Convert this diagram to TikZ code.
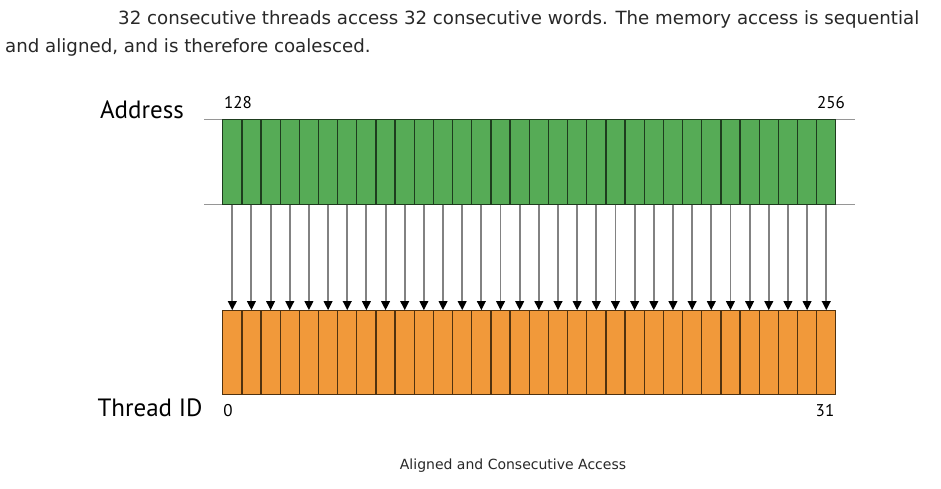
\documentclass[tikz,border=0pt]{standalone}
\usepackage{fontspec}
\setmainfont{DejaVu Sans}
\newfontfamily\labfont{PT Sans}
\usetikzlibrary{arrows.meta}
\definecolor{cellgreen}{RGB}{86,171,86}
\definecolor{cellorange}{RGB}{241,153,58}
\definecolor{greenline}{RGB}{30,60,30}
\definecolor{orangeline}{RGB}{80,50,15}
\definecolor{guide}{RGB}{150,150,150}
\definecolor{arrowgray}{RGB}{130,130,130}
\definecolor{txt}{RGB}{40,40,40}
\tikzset{
  gcell/.style={draw=greenline, fill=cellgreen, line width=1.3pt, minimum width=19.16pt, minimum height=85pt, inner sep=0pt, outer sep=0pt},
  ocell/.style={draw=orangeline, fill=cellorange, line width=1.3pt, minimum width=19.16pt, minimum height=84pt, inner sep=0pt, outer sep=0pt},
  guideline/.style={draw=guide, line width=1.8pt},
  link/.style={draw=arrowgray, line width=1.9pt, -{Triangle[width=8.5pt,length=9pt,fill=black,color=black]}},
  biglab/.style={font=\labfont\fontsize{25}{28}\selectfont, text=black, inner sep=0pt},
  numlab/.style={font=\labfont\fontsize{17}{20}\selectfont, text=black, inner sep=0pt},
  bodytext/.style={font=\fontsize{18.2}{21}\selectfont, text=txt, inner sep=0pt, anchor=base west},
  caption/.style={font=\fontsize{14}{16}\selectfont, text=txt, inner sep=0pt}
}
\begin{document}
\begin{tikzpicture}[x=1pt,y=-1pt]
\useasboundingbox[fill=white] (0,0) rectangle (941,489);
% body text
\node[bodytext] (line1) at (118,25) {32 consecutive threads access 32 consecutive words. The memory access is sequential};
\node[bodytext] (line2) at (5,53) {and aligned, and is therefore coalesced.};
% guide lines
\coordinate (gtl) at (204,119.5);
\coordinate (gtr) at (855,119.5);
\coordinate (gbl) at (204,204.5);
\coordinate (gbr) at (855,204.5);
\draw[guideline] (gtl) -- (gtr);
\draw[guideline] (gbl) -- (gbr);
% cells
\foreach \i in {1,...,32} {
  \node[gcell] (g\i) at ({222.7+19.16*(\i-0.5)},162) {};
  \node[ocell] (o\i) at ({222.7+19.16*(\i-0.5)},352.2) {};
}
\foreach \i in {1,...,32} {
  \draw[link] (g\i.south) -- (o\i.north);
}
% labels
\node[biglab] (addr) at (142,110) {Address};
\node[biglab] (tid) at (150,408) {Thread ID};
\node[numlab] (n128) at (238,103) {128};
\node[numlab] (n256) at (831,103) {256};
\node[numlab] (n0) at (228,411) {0};
\node[numlab] (n31) at (825,411) {31};
\node[caption] (cap) at (513,466) {Aligned and Consecutive Access};
\end{tikzpicture}
\end{document}
